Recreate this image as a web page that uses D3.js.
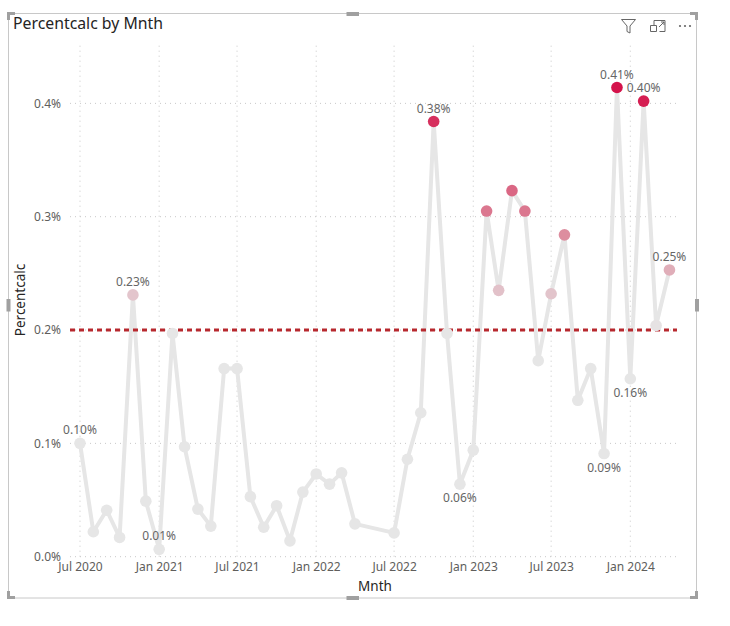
<!DOCTYPE html>
<html>
<head>
<meta charset="utf-8">
<script src="https://cdn.jsdelivr.net/npm/d3@7"></script>
<style>
  body { margin: 0; background: #fff; }
  text { font-family: "Segoe UI", "Noto Sans", "Open Sans", sans-serif; }
</style>
</head>
<body>
<div id="chart-container"></div>
<script>
let width = 730;
let height = 626;
let margin = ({top: 46.7, right: 53, bottom: 69.3, left: 70});

// months (May and Jun 2022 are missing in the source)
const months = [
  "2020-07", "2020-08", "2020-09", "2020-10", "2020-11", "2020-12",
  "2021-01", "2021-02", "2021-03", "2021-04", "2021-05", "2021-06",
  "2021-07", "2021-08", "2021-09", "2021-10", "2021-11", "2021-12",
  "2022-01", "2022-02", "2022-03", "2022-04", "2022-07", "2022-08",
  "2022-09", "2022-10", "2022-11", "2022-12", "2023-01", "2023-02",
  "2023-03", "2023-04", "2023-05", "2023-06", "2023-07", "2023-08",
  "2023-09", "2023-10", "2023-11", "2023-12", "2024-01", "2024-02",
  "2024-03", "2024-04"
];
// percent values
const percentcalc = [
  0.100, 0.022, 0.041, 0.017, 0.231, 0.049,
  0.0065, 0.197, 0.097, 0.042, 0.027, 0.166,
  0.166, 0.053, 0.026, 0.045, 0.014, 0.057,
  0.073, 0.064, 0.074, 0.029, 0.021, 0.086,
  0.127, 0.384, 0.197, 0.064, 0.094, 0.305,
  0.235, 0.323, 0.305, 0.173, 0.232, 0.284,
  0.138, 0.166, 0.091, 0.414, 0.157, 0.402,
  0.204, 0.253
];
// which points carry a data label, and where
const labelledAbove = ["2020-07", "2020-11", "2021-01", "2022-10", "2023-12", "2024-02", "2024-04"];
const labelledBelow = ["2022-12", "2023-11", "2024-01"];
const yTicks = [0, 0.1, 0.2, 0.3, 0.4];
const xTicks = ["2020-07", "2021-01", "2021-07", "2022-01", "2022-07", "2023-01", "2023-07", "2024-01"];
const referenceValue = 0.2;

const parseMonth = d3.timeParse("%Y-%m");
const chartData = months.map((m, i) => ({ key: m, date: parseMonth(m), value: percentcalc[i] }));

const x = d3.scaleTime()
    .domain([parseMonth("2020-07"), parseMonth("2024-01")])
    .range([80, 630.3]);

const y = d3.scaleLinear()
    .domain([0, 0.45])
    .range([556.7, margin.top]);

const color = d3.scaleLinear()
    .domain([0.2, 0.3, 0.415])
    .range(["#e6e6e6", "#db7c92", "#d4124a"])
    .clamp(true);

const svg = d3.select("#chart-container")
    .append("svg")
    .attr("width", width)
    .attr("height", height);

// visual container
svg.append("rect")
    .attr("x", 8.5).attr("y", 13.5)
    .attr("width", 688).attr("height", 584.5)
    .attr("fill", "none")
    .attr("stroke", "#c8c8c8");

const handles = svg.append("g").attr("fill", "#a0a0a0");
handles.append("path").attr("d", "M7,12h8v3h-5v5h-3z");
handles.append("path").attr("d", "M690,12h8v8h-3v-5h-5z");
handles.append("path").attr("d", "M7,599h8v-3h-5v-5h-3z");
handles.append("path").attr("d", "M698,599h-8v-3h5v-5h3z");
handles.append("rect").attr("x", 346.5).attr("y", 12).attr("width", 12.5).attr("height", 4);
handles.append("rect").attr("x", 346.5).attr("y", 596).attr("width", 12.5).attr("height", 4);
handles.append("rect").attr("x", 6.5).attr("y", 299).attr("width", 4).attr("height", 12.5);
handles.append("rect").attr("x", 695).attr("y", 299).attr("width", 4).attr("height", 12.5);

// title
svg.append("text")
    .attr("x", 13).attr("y", 29)
    .attr("font-size", 15.8)
    .attr("fill", "#252423")
    .text("Percentcalc by Mnth");

// header icons
const icons = svg.append("g").attr("fill", "none").attr("stroke", "#666").attr("stroke-width", 1);
icons.append("path").attr("d", "M621.5,19.5h14l-5.5,6.5v7l-3,-1.5v-5.5z");
icons.append("path").attr("d", "M654,26v-5.5h11v11h-5.5M650.5,25.5h6v6h-6z M659,27l5,-5 M661,22h3v3");
svg.append("g").attr("fill", "#666")
    .selectAll("circle")
    .data([680, 685, 690])
    .join("circle")
    .attr("cx", d => d).attr("cy", 26)
    .attr("r", 1.1);

// gridlines
svg.append("g")
    .attr("stroke", "#c8c8c8")
    .attr("stroke-dasharray", "1,4")
    .selectAll("line")
    .data(yTicks)
    .join("line")
    .attr("x1", 70).attr("x2", 677)
    .attr("y1", d => y(d)).attr("y2", d => y(d));

svg.append("g")
    .attr("stroke", "#c8c8c8")
    .attr("stroke-dasharray", "1,4")
    .selectAll("line")
    .data(xTicks)
    .join("line")
    .attr("x1", d => x(parseMonth(d))).attr("x2", d => x(parseMonth(d)))
    .attr("y1", margin.top - 1).attr("y2", y(0));

// y axis
const yAxis = g => g
    .attr("transform", `translate(61,0)`)
    .call(d3.axisLeft(y).tickValues(yTicks).tickSize(0).tickPadding(0)
        .tickFormat(d => d3.format(".1f")(d) + "%"))
    .call(g => g.select(".domain").remove())
    .call(g => g.selectAll("text")
        .attr("fill", "#605e5c")
        .attr("font-size", 12)
        .attr("font-family", null));

svg.append("g").call(yAxis);

// x axis
const xAxis = g => g
    .attr("transform", `translate(0,${y(0)})`)
    .call(d3.axisBottom(x).tickValues(xTicks.map(parseMonth)).tickSize(0).tickPadding(6)
        .tickFormat(d3.timeFormat("%b %Y")))
    .call(g => g.select(".domain").remove())
    .call(g => g.selectAll("text")
        .attr("fill", "#605e5c")
        .attr("font-size", 12)
        .attr("font-family", null));

svg.append("g").call(xAxis);

// axis titles
svg.append("text")
    .attr("transform", `translate(25,300) rotate(-90)`)
    .attr("text-anchor", "middle")
    .attr("font-size", 13.5)
    .attr("fill", "#252423")
    .text("Percentcalc");

svg.append("text")
    .attr("x", 375).attr("y", 591)
    .attr("text-anchor", "middle")
    .attr("font-size", 13.5)
    .attr("fill", "#252423")
    .text("Mnth");

// line
const line = d3.line()
    .x(d => x(d.date))
    .y(d => y(d.value));

svg.append("path")
    .datum(chartData)
    .attr("fill", "none")
    .attr("stroke", "#e6e6e6")
    .attr("stroke-width", 4)
    .attr("stroke-linejoin", "round")
    .attr("d", line);

// reference line
svg.append("line")
    .attr("x1", 70).attr("x2", 677)
    .attr("y1", y(referenceValue)).attr("y2", y(referenceValue))
    .attr("stroke", "#b7282e")
    .attr("stroke-width", 3)
    .attr("stroke-dasharray", "5,4");

// markers
svg.append("g")
    .selectAll("circle")
    .data(chartData)
    .join("circle")
    .attr("cx", d => x(d.date))
    .attr("cy", d => y(d.value))
    .attr("r", 5.8)
    .attr("fill", d => color(d.value));

// data labels
const labelFormat = d => d3.format(".2f")(d) + "%";
svg.append("g")
    .attr("font-size", 12)
    .attr("fill", "#666")
    .attr("text-anchor", "middle")
    .selectAll("text")
    .data(chartData.filter(d => labelledAbove.includes(d.key) || labelledBelow.includes(d.key)))
    .join("text")
    .attr("x", d => x(d.date))
    .attr("y", d => labelledAbove.includes(d.key) ? y(d.value) - 9 : y(d.value) + 18)
    .text(d => labelFormat(d.value));
</script>
</body>
</html>
